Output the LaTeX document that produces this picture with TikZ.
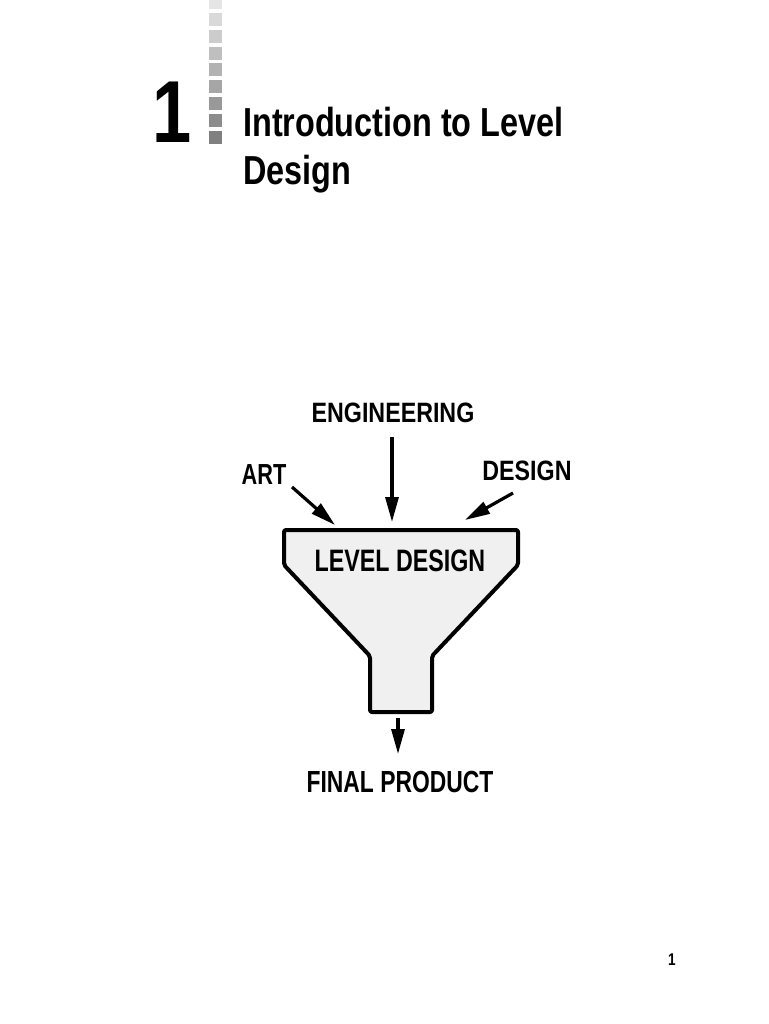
\documentclass[tikz,border=0pt]{standalone}
\usepackage{fontspec}
\usetikzlibrary{positioning,arrows.meta}
\newfontfamily\titlefont[FakeStretch=0.8]{Liberation Sans}
\newfontfamily\flowfont[FakeStretch=0.83]{Liberation Sans}
\newfontfamily\narrowflow[FakeStretch=0.75]{Liberation Sans}
\tikzset{
    funnelpic/.style={
        x=1pt, y=-1pt,
        % Stile per i testi del diagramma
        flowtext/.style={font=\flowfont\bfseries\fontsize{28}{30}\selectfont,
                         inner sep=0pt, anchor=base},
        narrowtext/.style={flowtext,
                           font=\narrowflow\bfseries\fontsize{30.5}{32}\selectfont},
        % Stile per le frecce in ingresso/uscita
        inflow/.style={line width=3.2pt,
                       -{Triangle[length=25pt,width=13pt]}},
        % Stile per l'imbuto
        funnel/.style={line width=4pt, fill=black!6,
                       rounded corners=2pt, line join=round},
        % Stile per i quadratini del titolo
        chapbox/.style={inner sep=0pt, minimum size=13pt, draw=none}
    }
}
\begin{document}
\begin{tikzpicture}[funnelpic]
    \useasboundingbox[fill=white] (0,0) rectangle (768,1024);
    % intestazione del capitolo
    \foreach \i in {0,...,8}{
        \pgfmathsetmacro{\shade}{10+5*\i}
        \node[chapbox, fill=black!\shade, anchor=north west]
            (sq\i) at (209,{-4+16.8*\i}) {};
    }
    \node[anchor=base west, inner sep=0pt,
          font=\titlefont\bfseries\fontsize{88}{88}\selectfont]
        (chapnum) at (152,143) {1};
    \node[anchor=base west, inner sep=0pt, align=left,
          font=\titlefont\bfseries\fontsize{40.5}{48}\selectfont]
        (title) at (243,185) {Introduction to Level\\Design};
    % imbuto
    \draw[funnel] (284,530) -- (518,530) -- (518,565) -- (432,656)
        -- (432,712) -- (370,712) -- (370,656) -- (284,565) -- cycle;
    % testi del diagramma
    \node[flowtext] (engineering) at (393,422) {ENGINEERING};
    \node[narrowtext, font=\narrowflow\bfseries\fontsize{29}{31}\selectfont] (art) at (264,484) {ART};
    \node[flowtext] (design) at (527,480) {DESIGN};
    \node[narrowtext, font=\narrowflow\bfseries\fontsize{31}{33}\selectfont] (level) at (400,571) {LEVEL DESIGN};
    \node[narrowtext] (product) at (400,792) {FINAL PRODUCT};
    \node[anchor=base, inner sep=0pt,
          font=\titlefont\bfseries\fontsize{17}{17}\selectfont]
        (pagenum) at (672,965) {1};
    % frecce
    \coordinate (artin) at (335,525);
    \coordinate (engin) at (392,522);
    \coordinate (desin) at (465,520);
    \coordinate (outtop) at (398,718);
    \coordinate (outtip) at (398,754);
    \draw[inflow] (292,487) coordinate (artfrom) -- (artin);
    \draw[inflow] (392,437) coordinate (engfrom) -- (engin);
    \draw[inflow] (513,493) coordinate (desfrom) -- (desin);
    \draw[inflow] (outtop) -- (outtip);
\end{tikzpicture}
\end{document}
